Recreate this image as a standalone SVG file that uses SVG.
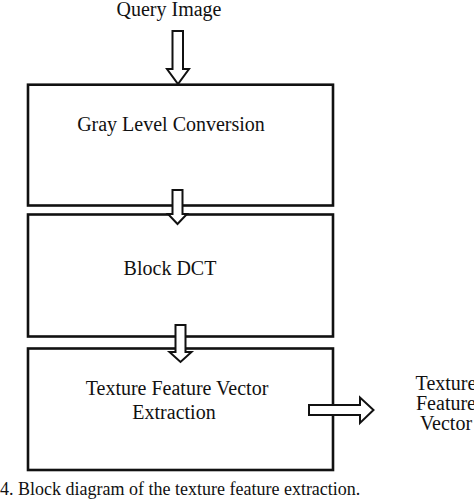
<svg xmlns="http://www.w3.org/2000/svg" width="474" height="499" viewBox="0 0 474 499">
<style>
.box{fill:none;stroke:#111;stroke-width:2.6}
.arr{fill:#fff;stroke:#111;stroke-width:2;stroke-linejoin:miter}
text{font-family:"Liberation Serif","Times New Roman",serif;font-size:20px;fill:#111}
.c{text-anchor:middle}
</style>
<rect width="474" height="499" fill="#fff"/>
<text id="query" class="c" x="169" y="16">Query Image</text>
<g id="gray">
<rect class="box" x="28" y="84.7" width="305" height="120.8"/>
<text class="c" x="171" y="131">Gray Level Conversion</text>
</g>
<g id="dct">
<rect class="box" x="28" y="214.5" width="305" height="122"/>
<text class="c" x="170" y="275">Block DCT</text>
</g>
<g id="extract">
<rect class="box" x="28" y="348.5" width="305" height="121.5"/>
<text class="c" x="177" y="395">Texture Feature Vector</text>
<text class="c" x="174" y="419">Extraction</text>
</g>
<g id="output">
<text class="c" x="446" y="389.5">Texture</text>
<text class="c" x="446" y="409.5">Feature</text>
<text class="c" x="446" y="429.5">Vector</text>
</g>
<g id="connectors">
<polygon class="arr" points="172.5,31 183,31 183,69 189,69 178,84 167,69 172.5,69"/>
<polygon class="arr" points="172.5,190 182.5,190 182.5,214 187,214 177.5,224 168,214 172.5,214"/>
<polygon class="arr" points="175.5,325 185.5,325 185.5,352 191.5,352 180.5,362 169.5,352 175.5,352"/>
<polygon class="arr" points="309,405 360,405 360,397.5 373.5,410 360,423 360,415 309,415"/>
</g>
<text id="caption" x="0" y="495" style="font-size:18px">4. Block diagram of the texture feature extraction.</text>
</svg>
